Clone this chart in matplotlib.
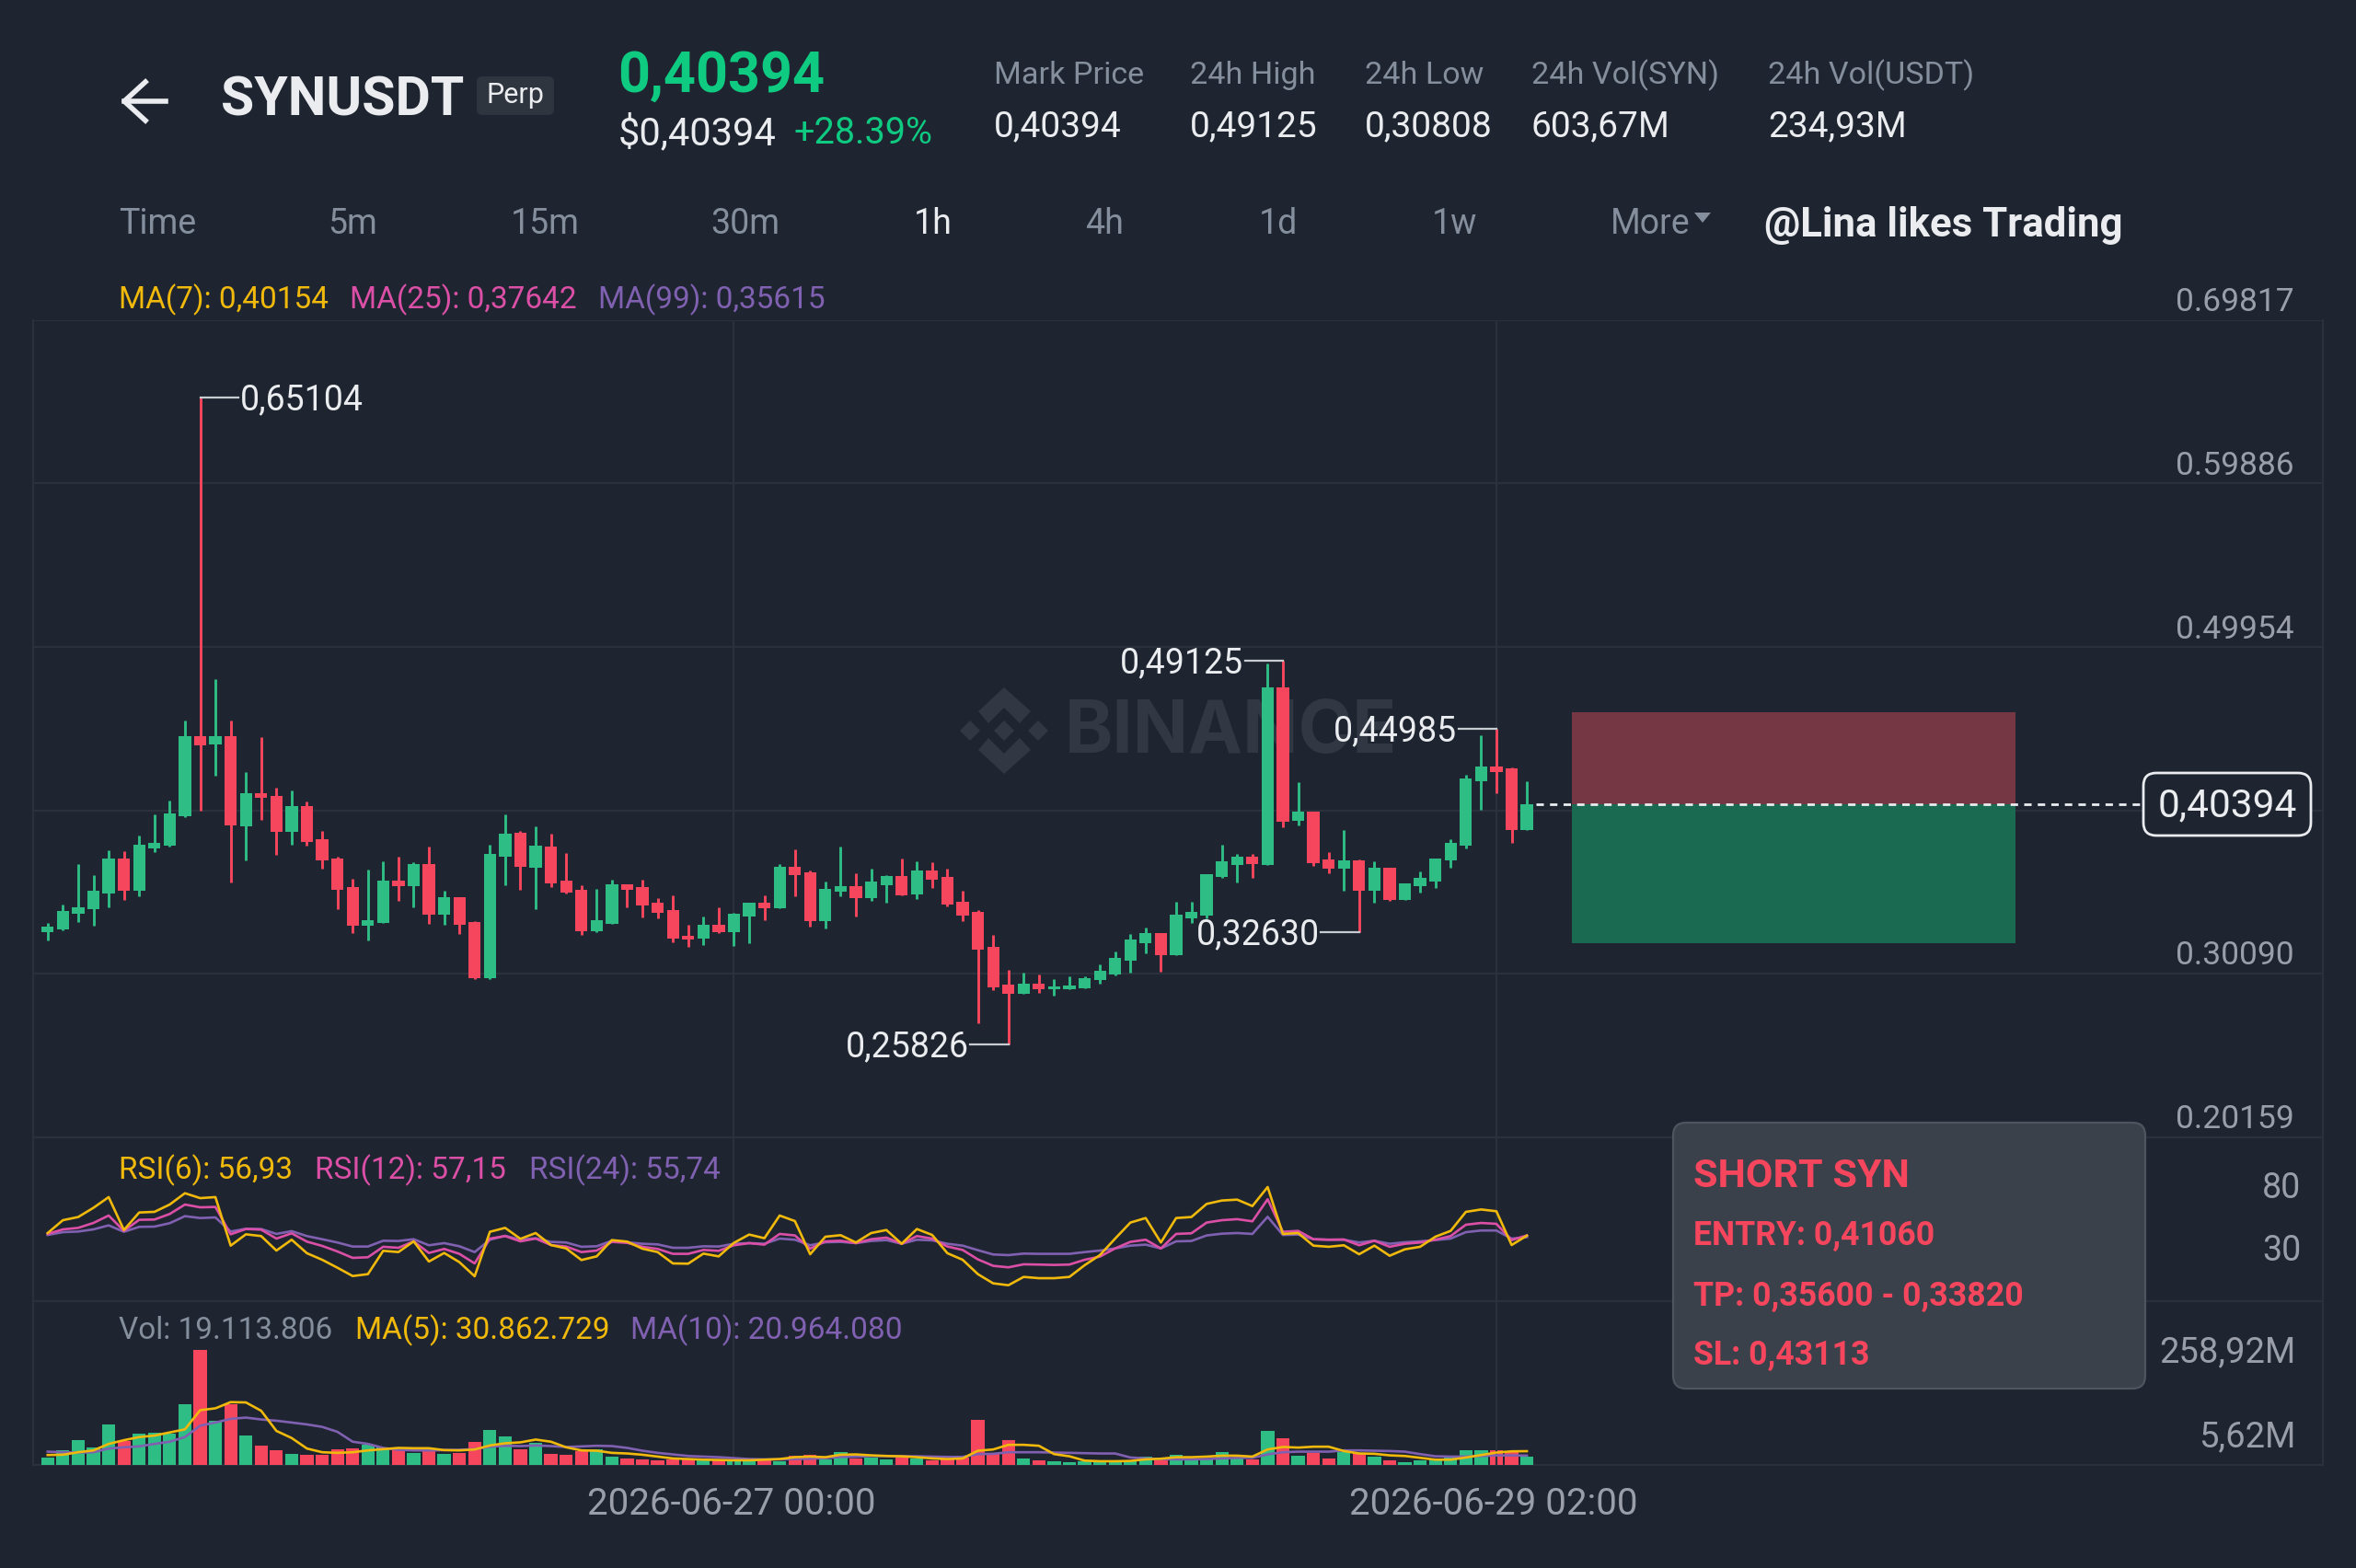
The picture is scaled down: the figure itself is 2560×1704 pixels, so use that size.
import matplotlib
matplotlib.use("Agg")
import matplotlib.pyplot as plt
from matplotlib.patches import FancyBboxPatch, Polygon, Rectangle
from matplotlib.transforms import IdentityTransform

BG = "#1E2530"
GRID = "#2B313C"
GREEN = "#2EBD85"
RED = "#F6465D"
YELLOW = "#F0B90B"
PINK = "#DB4FA6"
PURPLE = "#8060B0"
GRAY = "#848E9C"
AXIS_GRAY = "#9A9EA8"
WHITE = "#EAECEF"

W, H = 2560, 1704

plt.rcParams["font.family"] = ["Roboto", "DejaVu Sans"]

highs = [.3317, .3432, .3676, .3609, .3760, .3753, .3847, .3976, .4063, .4547,
         .65104, .4799, .4547, .4235, .4445, .4140, .4124, .4055, .3875, .3722,
         .3588, .3645, .3693, .3722, .3688, .3783, .3514, .3473, .3327, .3796,
         .3978, .3878, .3906, .3861, .3743, .3548, .3523, .3583, .3553, .3581,
         .3469, .3488, .3305, .3359, .3415, .3380, .3443, .3488, .3676, .3766,
         .3639, .3568, .3782, .3622, .3648, .3611, .3710, .3691, .3685, .3648,
         .3516, .3398, .3248, .3033, .3017, .3007, .2976, .2992, .2996, .3069,
         .3145, .3251, .3292, .3257, .3447, .3445, .3615, .3794, .3740, .3740,
         .4893, .49125, .4176, .3997, .3751, .3881, .3706, .3695, .3656, .3557,
         .3630, .3712, .3829, .4220, .4457, .44985, .4265, .4181]
lows = [.3211, .3273, .3322, .3304, .3414, .3458, .3483, .3747, .3781, .3963,
        .4001, .4212, .3563, .3701, .3947, .3734, .3791, .3786, .3647, .3404,
        .3257, .3211, .3316, .3450, .3416, .3311, .3306, .3250, .2978, .2978,
        .3550, .3519, .3401, .3536, .3499, .3248, .3262, .3315, .3415, .3352,
        .3344, .3199, .3171, .3182, .3259, .3179, .3197, .3337, .3406, .3482,
        .3294, .3287, .3480, .3356, .3454, .3443, .3484, .3466, .3533, .3419,
        .3330, .2711, .2908, .25826, .2886, .2892, .2877, .2916, .2921, .2951,
        .2998, .3015, .3134, .3022, .3123, .3317, .3348, .3590, .3566, .3590,
        .3672, .3900, .3913, .3663, .3618, .3516, .32630, .3441, .3453, .3458,
        .3505, .3531, .3652, .3771, .4004, .4107, .3803, .3881]
opens = [.3260, .3278, .3375, .3401, .3496, .3709, .3514, .3773, .3786, .3965,
         .4453, .4401, .4453, .3906, .4109, .4088, .3870, .4029, .3829, .3711,
         .3534, .3299, .3319, .3575, .3542, .3676, .3368, .3473, .3324, .2981,
         .3719, .3865, .3655, .3784, .3575, .3521, .3268, .3315, .3553, .3534,
         .3439, .3397, .3240, .3221, .3309, .3264, .3356, .3443, .3406, .3657,
         .3628, .3330, .3510, .3544, .3467, .3549, .3602, .3490, .3637, .3600,
         .3449, .3384, .3171, .2946, .2886, .2951, .2914, .2916, .2921, .2970,
         .3007, .3089, .3197, .3257, .3123, .3346, .3363, .3596, .3671, .3719,
         .3672, .4751, .3937, .3997, .3704, .3650, .3700, .3516, .3656, .3458,
         .3540, .3572, .3697, .3786, .4181, .4267, .4256, .3881]
closes = [.3296, .3391, .3416, .3514, .3709, .3514, .3791, .3806, .3981, .4453,
          .4399, .4453, .3909, .4109, .4076, .3870, .4029, .3811, .3696, .3519,
          .3299, .3334, .3575, .3542, .3678, .3368, .3473, .3306, .2981, .3737,
          .3863, .3658, .3786, .3559, .3503, .3268, .3333, .3553, .3520, .3425,
          .3380, .3221, .3220, .3309, .3264, .3374, .3443, .3406, .3657, .3609,
          .3330, .3527, .3542, .3467, .3568, .3602, .3488, .3639, .3583, .3432,
          .3365, .3156, .2929, .2886, .2948, .2916, .2933, .2938, .2985, .3026,
          .3106, .3216, .3257, .3123, .3367, .3384, .3615, .3691, .3719, .3674,
          .4751, .3935, .3997, .3684, .3648, .3700, .3514, .3652, .3456, .3557,
          .3590, .3712, .3803, .4194, .4267, .4235, .3881, .40394]

rsi6 = [59.0, 69.2, 71.7, 79.0, 87.5, 61.4, 75.3, 75.8, 81.6, 90.6, 86.7, 87.5, 49.0, 58.0,
        56.6, 45.1, 53.7, 43.0, 37.8, 31.5, 24.9, 26.4, 44.9, 43.9, 52.4, 36.4, 43.2, 35.9,
        24.7, 60.0, 63.1, 54.4, 59.0, 49.5, 46.8, 37.6, 40.5, 53.4, 52.2, 46.6, 43.9, 34.9,
        34.7, 42.7, 40.5, 51.2, 57.8, 54.9, 72.9, 68.5, 42.2, 56.1, 57.3, 51.5, 59.0, 61.4,
        50.5, 62.2, 57.5, 43.0, 37.8, 26.4, 19.1, 17.6, 24.2, 23.2, 23.2, 24.2, 33.5, 41.5,
        54.6, 67.3, 70.9, 51.5, 70.9, 71.7, 82.1, 84.8, 85.5, 80.4, 95.5, 58.3, 59.0, 49.0,
        48.1, 49.3, 42.2, 49.0, 41.0, 46.1, 48.1, 56.1, 60.7, 75.8, 77.7, 76.3, 49.5, 56.93]
rsi12 = [58.3, 61.9, 63.1, 67.0, 72.9, 60.7, 69.5, 69.7, 74.1, 81.6, 79.4, 79.7, 58.0, 62.2,
         61.7, 54.6, 58.8, 52.2, 48.8, 44.4, 39.3, 39.8, 48.1, 47.3, 52.4, 43.2, 46.4, 42.5,
         34.9, 54.6, 56.6, 52.4, 54.6, 49.5, 48.3, 43.9, 45.1, 52.0, 51.2, 48.1, 46.4, 42.5,
         42.5, 45.6, 44.9, 49.3, 51.0, 49.8, 58.3, 57.1, 46.6, 52.4, 52.9, 51.0, 54.1, 55.4,
         50.5, 56.6, 54.6, 48.3, 45.6, 38.1, 33.0, 31.8, 34.2, 34.0, 33.7, 34.0, 37.8, 40.3,
         46.8, 52.0, 53.7, 46.8, 58.3, 58.8, 67.3, 69.2, 70.0, 68.3, 85.8, 60.0, 60.7, 54.1,
         53.7, 53.9, 49.3, 52.9, 48.1, 50.5, 51.5, 53.7, 56.6, 65.6, 67.0, 66.3, 53.4, 57.15]
rsi24 = [57.5, 59.7, 60.2, 61.9, 65.1, 60.0, 63.9, 64.1, 66.8, 72.4, 70.9, 71.4, 60.2, 62.4,
         62.2, 58.3, 60.5, 56.6, 54.1, 51.5, 48.3, 48.3, 52.9, 52.7, 54.1, 49.3, 51.0, 48.5,
         43.9, 53.7, 56.8, 53.7, 54.9, 52.0, 51.5, 48.1, 48.5, 52.9, 51.7, 50.5, 50.0, 47.3,
         47.3, 48.5, 48.3, 50.5, 51.0, 50.5, 54.6, 53.7, 49.3, 51.7, 52.0, 51.0, 52.7, 53.4,
         50.5, 53.7, 53.2, 50.5, 49.0, 45.4, 42.0, 41.5, 42.7, 42.5, 42.5, 42.5, 43.9, 45.1,
         46.8, 49.0, 49.8, 46.8, 52.4, 52.7, 57.1, 58.5, 59.0, 58.3, 71.9, 57.5, 57.8, 54.1,
         53.7, 53.7, 51.5, 52.9, 50.5, 51.7, 52.4, 53.4, 54.6, 59.7, 61.0, 61.0, 54.6, 55.74]

volumes = [17.4, 32.6, 55.5, 39.6, 91.6, 53.4, 69.4, 72.9, 70.8, 135.3, 258.92, 99.2, 135.3, 65.9,
           43.7, 32.6, 24.3, 22.2, 22.2, 34.7, 36.8, 45.1, 38.2, 34.7, 27.8, 31.2, 24.3, 26.4,
           52.1, 77.7, 63.8, 36.1, 49.3, 25.7, 23.6, 31.2, 34.7, 18.0, 14.6, 12.5, 9.7, 12.5,
           12.5, 9.7, 11.8, 9.7, 9.7, 10.4, 9.0, 21.5, 22.2, 13.2, 29.8, 14.6, 16.7, 12.5,
           16.0, 13.9, 10.4, 13.2, 17.4, 100.6, 27.8, 54.8, 15.3, 10.4, 7.6, 5.6, 7.6, 6.9,
           6.9, 10.4, 19.4, 10.4, 23.6, 15.3, 15.3, 28.5, 17.4, 13.2, 76.3, 60.4, 21.5, 27.1,
           13.9, 29.1, 27.8, 18.0, 11.1, 6.9, 10.4, 13.9, 17.4, 33.3, 34.0, 34.0, 31.2, 19.11]
vol_ma5 = [22.2, 22.9, 28.5, 32.6, 47.2, 55.5, 62.5, 65.9, 72.9, 79.8, 122.8, 127.0, 140.9, 140.2,
           121.5, 76.3, 60.4, 36.8, 28.5, 27.1, 28.5, 32.6, 35.4, 38.2, 37.5, 37.5, 33.3, 32.6,
           34.7, 43.7, 48.6, 50.7, 56.9, 52.1, 39.6, 32.6, 31.9, 27.1, 25.7, 22.9, 18.7, 14.6,
           13.2, 11.8, 11.1, 10.4, 10.4, 11.8, 13.2, 17.4, 18.7, 17.4, 22.9, 23.6, 21.5, 20.1,
           19.4, 17.4, 14.6, 13.2, 14.6, 31.9, 34.7, 45.1, 45.1, 43.0, 24.3, 19.4, 9.7, 8.3,
           8.3, 9.0, 12.5, 13.9, 17.4, 17.4, 18.7, 20.8, 20.8, 18.7, 34.7, 40.3, 38.9, 40.9,
           40.9, 31.2, 25.7, 25.0, 21.5, 20.1, 16.0, 11.8, 11.8, 16.7, 22.2, 27.8, 30.5, 30.86]
vol_ma10 = [29.8, 28.5, 27.8, 28.5, 36.8, 39.6, 41.6, 47.2, 52.1, 62.5, 88.1, 95.1, 103.4, 106.2,
            102.0, 99.2, 95.1, 90.9, 85.4, 74.3, 52.1, 47.2, 38.2, 34.0, 32.6, 32.6, 33.3, 34.0,
            35.4, 40.9, 43.0, 42.3, 43.7, 42.3, 40.3, 41.6, 43.0, 42.3, 38.2, 31.9, 27.1, 23.6,
            20.1, 18.7, 17.4, 15.3, 13.2, 12.5, 12.5, 13.2, 13.9, 15.3, 18.0, 18.7, 20.1, 20.1,
            19.4, 19.4, 18.7, 18.0, 18.0, 24.3, 25.0, 28.5, 28.5, 28.5, 27.8, 27.1, 26.4, 25.7,
            25.7, 16.7, 14.6, 13.2, 12.5, 12.5, 13.2, 14.6, 16.0, 16.0, 23.6, 28.5, 29.8, 29.8,
            29.8, 32.6, 32.6, 31.9, 31.2, 29.8, 24.3, 19.4, 18.7, 18.7, 20.1, 21.5, 21.5, 20.96]

price_ticks = ["0.69817", "0.59886", "0.49954", "0.30090", "0.20159"]
price_grid = [.69817, .59886, .49954, .40022, .30090, .20159]
time_ticks = [(45, "2026-06-27 00:00"), (95, "2026-06-29 02:00")]
extremes = [(10, .65104, "0,65104", 1), (63, .25826, "0,25826", -1), (81, .49125, "0,49125", -1),
            (86, .32630, "0,32630", -1), (95, .44985, "0,44985", -1)]
last_price = .40394
zone_x = (99.95, 129.03)
zone_top, zone_mid, zone_bottom = .4600, .40394, .3195

AX_LEFT, AX_RIGHT = 36, 2524
STEP = 16.57


def new_axes(fig, top, bottom, ylim):
    # panels are placed by pixel rows so they line up with the reference screenshot
    ax = fig.add_axes([AX_LEFT / W, 1 - bottom / H, (AX_RIGHT - AX_LEFT) / W, (bottom - top) / H])
    ax.set_facecolor("none")
    ax.set_xlim((AX_LEFT - 51.8) / STEP, (AX_RIGHT - 51.8) / STEP)
    ax.set_ylim(*ylim)
    ax.set_xticks([t[0] for t in time_ticks])
    ax.set_xticklabels([])
    ax.tick_params(length=0)
    ax.grid(axis="x", color=GRID, lw=1.6)
    for spine in ax.spines.values():
        spine.set_visible(False)
    ax.spines["left"].set_visible(True)
    ax.spines["left"].set_color(GRID)
    ax.spines["left"].set_linewidth(1.6)
    return ax


def px_text(fig, x, y, s, size, color, ha="left", weight="normal", family=None):
    text = fig.text(x / W, 1 - y / H, s, fontsize=size, color=color, ha=ha, va="center",
                    fontweight=weight)
    if family:
        text.set_fontfamily(family)
    return text


def round_box(fig, left, top, right, bottom, radius, zorder, **kw):
    box = FancyBboxPatch((left, H - bottom), right - left, bottom - top,
                         boxstyle=f"round,pad=0,rounding_size={radius}",
                         transform=IdentityTransform(), zorder=zorder, **kw)
    fig.add_artist(box)


def px_poly(fig, points, color, zorder=1):
    fig.add_artist(Polygon([(x, H - y) for x, y in points], closed=True, color=color, lw=0,
                           transform=IdentityTransform(), zorder=zorder))


fig = plt.figure(figsize=(W / 100, H / 100), dpi=100, facecolor=BG)

# watermark
mark = "#323843"
px_text(fig, 1157, 797, "BINANCE", 57, mark, weight="bold", family="Inter").set_zorder(1)
px_poly(fig, [(1091, 747), (1120, 773), (1108, 786), (1091, 769), (1074, 786), (1063, 773)], mark)
px_poly(fig, [(1091, 841), (1120, 815), (1108, 802), (1091, 819), (1074, 802), (1063, 815)], mark)
for cx in (1054, 1091, 1128):
    px_poly(fig, [(cx, 783), (cx + 11, 794), (cx, 805), (cx - 11, 794)], mark)

# price panel
ax = new_axes(fig, 347.6, 1236, (.20159, .69817))
ax.set_yticks(price_grid)
ax.set_yticklabels([])
ax.grid(axis="y", color=GRID, lw=1.6)
ax.set_zorder(3)
px = list(range(len(opens)))
for i in px:
    col = GREEN if closes[i] >= opens[i] else RED
    ax.vlines(i, lows[i], highs[i], color=col, lw=2.1, zorder=4)
    ax.bar(i, abs(closes[i] - opens[i]), bottom=min(opens[i], closes[i]), width=0.8,
           color=col, zorder=5)
ax.add_patch(Rectangle((zone_x[0], zone_mid), zone_x[1] - zone_x[0], zone_top - zone_mid,
                       color="#763744", lw=0, zorder=3))
ax.add_patch(Rectangle((zone_x[0], zone_bottom), zone_x[1] - zone_x[0], zone_mid - zone_bottom,
                       color="#1A6A52", lw=0, zorder=3))
ax.plot([len(opens) - 0.4, 137.5], [last_price, last_price], color=WHITE, lw=2,
        ls=(0, (2.9, 2.4)), zorder=6)

for i, price, label, side in extremes:
    ax.plot([i, i + side * 2.5], [price, price], color="#C8CCD2", lw=1.6, zorder=6)
    ax.annotate(label, (i + side * 2.6, price), xytext=(0, -2), textcoords="offset points",
                color=WHITE, fontsize=27, ha="left" if side > 0 else "right", va="center",
                zorder=7)

# RSI panel
ax_rsi = new_axes(fig, 1236, 1413.7, (5.2, 134.9))
ax_rsi.set_yticks([])
ax_rsi.plot(px, rsi24, color=PURPLE, lw=1.9)
ax_rsi.plot(px, rsi12, color=PINK, lw=1.9)
ax_rsi.plot(px, rsi6, color=YELLOW, lw=1.9)

# volume panel
ax_vol = new_axes(fig, 1413.7, 1592, (0, 368))
ax_vol.set_yticks([])
vol_colors = [GREEN if c >= o else RED for o, c in zip(opens, closes)]
ax_vol.bar(px, volumes, width=0.86, color=vol_colors)
ax_vol.plot(px, vol_ma10, color=PURPLE, lw=1.9)
ax_vol.plot(px, vol_ma5, color=YELLOW, lw=1.9)

# horizontal separators shared by panels
for y in (1236, 1413.7, 1592):
    fig.add_artist(plt.Line2D([AX_LEFT / W, AX_RIGHT / W], [1 - y / H] * 2, color=GRID, lw=1.6,
                              zorder=0))
fig.add_artist(plt.Line2D([AX_RIGHT / W] * 2, [1 - 347.6 / H, 1 - 1592 / H], color=GRID, lw=1.6,
                          zorder=0))

# header
fig.add_artist(plt.Line2D([135 / W, 180 / W], [1 - 110 / H] * 2, color=WHITE, lw=4))
fig.add_artist(plt.Line2D([158 / W, 135 / W, 158 / W], [1 - 89 / H, 1 - 110 / H, 1 - 131 / H],
                          color=WHITE, lw=4))
px_text(fig, 240, 109, "SYNUSDT", 42.5, WHITE, weight="bold")
round_box(fig, 518, 83, 602, 125, 6, 1, color="#2F353F", lw=0)
px_text(fig, 560, 103, "Perp", 22, WHITE, ha="center")
px_text(fig, 671, 83, "0,40394", 44, "#0ECB81", weight="bold")
px_text(fig, 672, 145, "$0,40394", 30, WHITE)
px_text(fig, 862, 145, "+28.39%", 28.5, "#0ECB81")
for x, name, val in [(1080, "Mark Price", "0,40394"), (1293, "24h High", "0,49125"),
                     (1483, "24h Low", "0,30808"), (1664, "24h Vol(SYN)", "603,67M"),
                     (1921, "24h Vol(USDT)", "234,93M")]:
    px_text(fig, x, 82, name, 24.6, GRAY)
    px_text(fig, x, 138, val, 28, WHITE)

for x, name in [(129, "Time"), (356, "5m"), (555, "15m"), (772, "30m"), (993, "1h"), (1179, "4h"),
                (1368, "1d"), (1556, "1w"), (1750, "More")]:
    px_text(fig, x, 243, name, 27, WHITE if name == "1h" else GRAY)
px_poly(fig, [(1841, 231), (1859, 231), (1850, 242)], GRAY)
px_text(fig, 1917, 245, "@Lina likes Trading", 31.5, WHITE, weight="bold")

for x, s, c in [(129, "MA(7): 0,40154", YELLOW), (380, "MA(25): 0,37642", PINK),
                (650, "MA(99): 0,35615", PURPLE)]:
    px_text(fig, x, 326, s, 24, c)
for x, s, c in [(129, "RSI(6): 56,93", YELLOW), (342, "RSI(12): 57,15", PINK),
                (575, "RSI(24): 55,74", PURPLE)]:
    px_text(fig, x, 1272, s, 24, c)
for x, s, c in [(129, "Vol: 19.113.806", GRAY), (386, "MA(5): 30.862.729", YELLOW),
                (685, "MA(10): 20.964.080", PURPLE)]:
    px_text(fig, x, 1446, s, 24, c)

# right axis labels
for s, y in zip(price_ticks, [328, 506, 684, 1038, 1216]):
    px_text(fig, 2493, y, s, 25.5, AXIS_GRAY, ha="right")
px_text(fig, 2500, 1291, "80", 27, AXIS_GRAY, ha="right")
px_text(fig, 2500, 1360, "30", 27, AXIS_GRAY, ha="right")
px_text(fig, 2495, 1470, "258,92M", 27.5, AXIS_GRAY, ha="right")
px_text(fig, 2495, 1562, "5,62M", 27.5, AXIS_GRAY, ha="right")

round_box(fig, 2329, 840, 2511, 908, 14, 8, fc=BG, ec=WHITE, lw=2)
px_text(fig, 2420, 876, "0,40394", 30.5, WHITE, ha="center").set_zorder(9)

for t, label in time_ticks:
    px_text(fig, 48.8 + t * STEP, 1635, label, 29, AXIS_GRAY, ha="center")

# trade note
round_box(fig, 1818, 1220, 2331, 1509, 14, 8, fc="#3A414B", ec="#4E555F", lw=1.6)
for y, s, size in [(1278, "SHORT SYN", 31), (1343, "ENTRY: 0,41060", 25.7),
                   (1409, "TP: 0,35600 - 0,33820", 25.7), (1473, "SL: 0,43113", 25.7)]:
    px_text(fig, 1840, y, s, size, RED, weight="bold").set_zorder(9)

fig.savefig("out.png", dpi=100, facecolor=BG)
